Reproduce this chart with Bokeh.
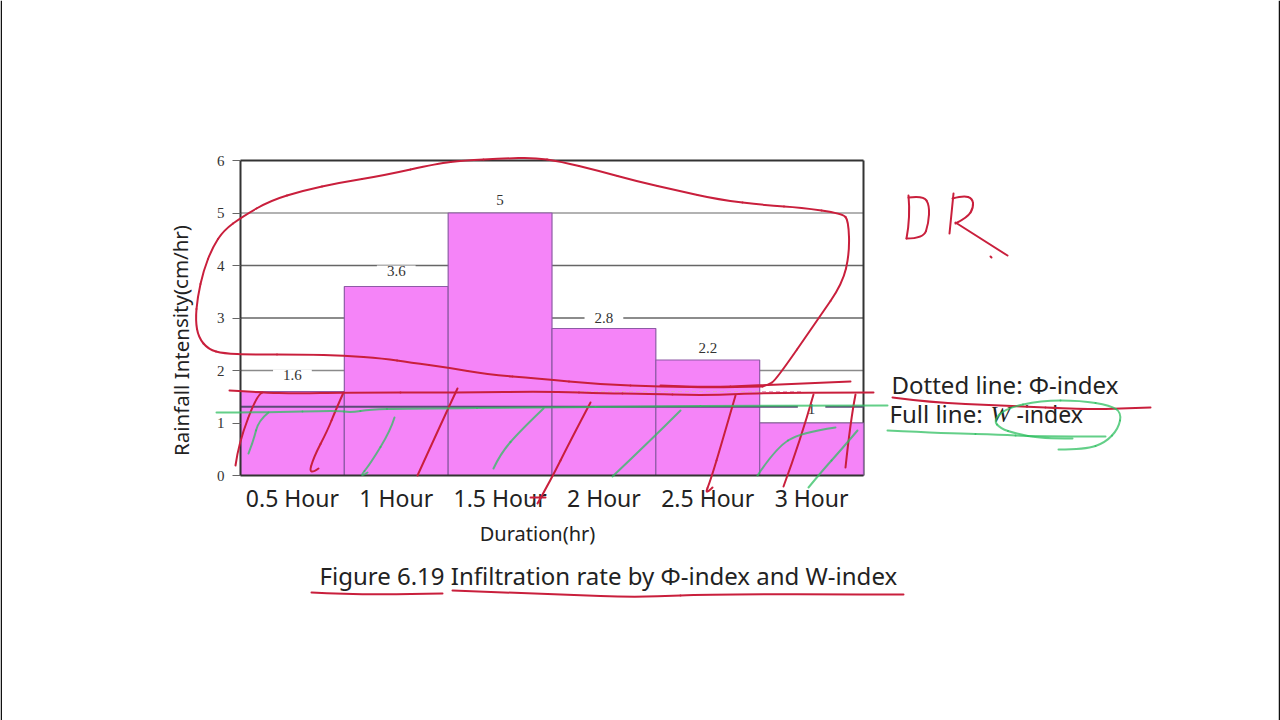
from bokeh.core.properties import value
from bokeh.embed import file_html
from bokeh.models import FixedTicker, Label, LinearAxis, Range1d
from bokeh.plotting import figure
from bokeh.resources import INLINE

# chart data
durations = ["0.5 Hour", "1 Hour", "1.5 Hour", "2 Hour", "2.5 Hour", "3 Hour"]
intensity = [1.6, 3.6, 5, 2.8, 2.2, 1]
value_labels = ["1.6", "3.6", "5", "2.8", "2.2", "1"]
label_offsets = [17, 16, 13, 11, 12, 14]
y_ticks = [0, 1, 2, 3, 4, 5, 6]
grid_levels = [1, 2, 3, 4, 5]
grid_colors = ["#8a8a8a", "#8a8a8a", "#666666", "#666666", "#999999"]
phi_index = 1.6
w_index = 1.31

# where the chart sits on the page, in page pixels
left, right, top, bottom = 240, 863, 160, 475
page_w, page_h = 1280, 720

# pen strokes drawn over the slide, in page pixels
red_strokes = [
    [(762, 386), (720, 387), (660, 386), (600, 384), (537, 378), (487, 374), (447, 367), (410, 362), (383, 358),
     (343, 355), (303, 354), (250, 354), (223, 353), (208, 349), (198, 337), (195, 320), (197, 297), (203, 270),
     (212, 247), (223, 230), (242, 216), (270, 200), (303, 190), (340, 182), (383, 175), (437, 163), (463, 160),
     (503, 158), (533, 157), (560, 161), (597, 170), (637, 181), (677, 190), (717, 199), (767, 205), (800, 207),
     (842, 213), (848, 220), (849, 253), (842, 283), (818, 318), (775, 380), (768, 384), (762, 386)],
    [(229, 390), (260, 392), (297, 393), (343, 392), (457, 392), (550, 391), (607, 393), (637, 393), (707, 395),
     (770, 392), (873, 392)],
    [(660, 385), (700, 387), (760, 385), (850, 381)],
    [(892, 397), (930, 402), (1000, 405), (1090, 409), (1120, 408), (1150, 407)],
    [(235, 465), (238, 443), (257, 393), (262, 392)],
    [(343, 392), (335, 410), (327, 430), (313, 457), (308, 475), (318, 468)],
    [(457, 388), (448, 407), (417, 475)],
    [(590, 402), (570, 440), (550, 480), (537, 503)],
    [(530, 497), (545, 497)],
    [(735, 395), (722, 440), (710, 480), (704, 495), (712, 487)],
    [(813, 394), (800, 440), (783, 486)],
    [(855, 394), (850, 420), (845, 467)],
    [(311, 592), (360, 595), (442, 593)],
    [(452, 590), (560, 594), (640, 597), (720, 593), (903, 594)],
    [(908, 195), (910, 217), (906, 238)],
    [(908, 197), (923, 195), (929, 205), (928, 223), (923, 238), (906, 238)],
    [(953, 193), (949, 233)],
    [(952, 198), (963, 195), (972, 198), (973, 207), (967, 217), (955, 223)],
    [(955, 222), (1007, 255)],
    [(990, 256), (991, 257)],
]
green_strokes = [
    [(216, 412), (267, 412), (337, 410), (350, 412), (370, 409), (403, 408), (550, 407), (640, 406), (760, 405),
     (887, 405)],
    [(268, 412), (258, 420), (253, 440), (248, 453)],
    [(394, 417), (390, 430), (370, 463), (358, 478), (367, 472)],
    [(543, 408), (520, 430), (500, 453), (493, 468)],
    [(680, 410), (650, 440), (612, 476)],
    [(835, 427), (800, 432), (775, 448), (757, 475)],
    [(857, 430), (840, 450), (822, 470), (808, 487)],
    [(887, 430), (950, 433), (1000, 434), (1030, 436), (1105, 436)],
    [(1058, 449), (1085, 449), (1105, 442), (1118, 428), (1121, 412), (1110, 405), (1080, 400), (1040, 400),
     (1005, 408), (993, 420), (1000, 428), (1015, 433), (1040, 438), (1072, 438)],
]

# frame covers the whole page so the pen marks can leave the chart
unit_x = (right - left) / 6
unit_y = (bottom - top) / 6
p = figure(width=page_w, height=page_h, output_backend="svg", toolbar_location=None, min_border=0,
           x_axis_type=None, y_axis_type=None,
           x_range=Range1d(-left / unit_x, (page_w - left) / unit_x),
           y_range=Range1d((bottom - page_h) / unit_y, bottom / unit_y))
p.outline_line_color = None
p.grid.visible = False
p.extra_x_ranges["px"] = Range1d(0, page_w)
p.extra_y_ranges["px"] = Range1d(page_h, 0)

# dark edges of the slide
p.segment(x0=[0.75, page_w - 1], x1=[0.75, page_w - 1], y0=0, y1=page_h, line_color="#111111",
          line_width=1.5, x_range_name="px", y_range_name="px")

n = len(durations)
p.segment(x0=0, x1=6, y0=grid_levels, y1=grid_levels, line_color=grid_colors, line_width=1.6)
p.segment(x0=[0, 6], x1=[6, 6], y0=[6, 0], y1=[6, 6], line_color="#333333", line_width=2)
p.vbar(x=[i + 0.5 for i in range(n)], width=1, bottom=0, top=intensity,
       fill_color="#F584F8", line_color="#8E5BA6", line_width=1.2)
p.line([0, 6], [w_index, w_index], line_color="#5C4A78", line_width=2)
p.line([3, 5.4], [phi_index, phi_index], line_color="#E8A0C0", line_width=1.2, line_dash="4 3")

yaxis = LinearAxis(fixed_location=0, bounds=(0, 6), ticker=FixedTicker(ticks=y_ticks))
yaxis.axis_line_color = "#333333"
yaxis.axis_line_width = 2
yaxis.major_tick_line_color = "#666666"
yaxis.major_tick_out = 8
yaxis.major_tick_in = 0
yaxis.minor_tick_line_color = None
yaxis.major_label_text_font = "Liberation Serif"
yaxis.major_label_text_font_size = "15px"
yaxis.major_label_text_color = "#333333"
yaxis.major_label_standoff = 8
p.add_layout(yaxis, "left")

xaxis = LinearAxis(fixed_location=0, bounds=(0, 6), ticker=FixedTicker(ticks=[i + 0.5 for i in range(n)]))
xaxis.major_label_overrides = {i + 0.5: d for i, d in enumerate(durations)}
xaxis.axis_line_color = "#333333"
xaxis.axis_line_width = 2
xaxis.major_tick_line_color = None
xaxis.minor_tick_line_color = None
xaxis.major_label_text_font = "Noto Sans"
xaxis.major_label_text_font_size = "23px"
xaxis.major_label_text_color = "#222222"
xaxis.major_label_standoff = 0
p.add_layout(xaxis, "below")

# value labels sit on white so they cut the grid lines
for i, (v, t) in enumerate(zip(intensity, value_labels)):
    p.add_layout(Label(x=i + 0.5, y=v, text=t, y_offset=label_offsets[i], text_align="center", text_baseline="middle",
                       text_font="Liberation Serif", text_font_size="15px", text_color="#333333",
                       background_fill_color="white", padding=(10, 0)))


def page_text(x, y, text, size, **kw):
    kw.setdefault("text_font", value("Noto Sans"))
    p.text([x], [y], text=[text], text_font_size=size, text_color="#222222", text_baseline="middle",
           x_range_name="px", y_range_name="px", level="annotation", **kw)


page_text(180, 340, "Rainfall Intensity(cm/hr)", "20.5px", angle=1.5708, text_align="center")
page_text(537, 533, "Duration(hr)", "20px", text_align="center")
page_text(319, 575, "Figure 6.19 Infiltration rate by Φ-index and W-index", "24px", text_align="left")
page_text(891, 384, "Dotted line: Φ-index", "24px", text_align="left")
page_text(889, 413, "Full line:", "24px", text_align="left")
page_text(990, 413, "W", "24px", text_align="left", text_font=value("Liberation Serif"), text_font_style="italic")
page_text(1016, 413, "-index", "23px", text_align="left")


def draw_stroke(stroke, **kw):
    xs = [c[0] for c in stroke]
    ys = [c[1] for c in stroke]
    if len(stroke) < 3:
        p.line(xs, ys, x_range_name="px", y_range_name="px", level="overlay", line_cap="round", **kw)
        return
    # rounded pen line: one curve per inner point, joined half way between points
    mx = [(a + b) / 2 for a, b in zip(xs[1:-2], xs[2:-1])]
    my = [(a + b) / 2 for a, b in zip(ys[1:-2], ys[2:-1])]
    p.quadratic(x0=xs[:1] + mx, y0=ys[:1] + my, x1=mx + xs[-1:], y1=my + ys[-1:], cx=xs[1:-1], cy=ys[1:-1],
                x_range_name="px", y_range_name="px", level="overlay", line_cap="round", **kw)


for stroke in red_strokes:
    draw_stroke(stroke, line_color="#C91F3C", line_width=2)
for stroke in green_strokes:
    draw_stroke(stroke, line_color="#2FBF60", line_width=2, line_alpha=0.75)

open("out.html", "w").write(file_html(p, INLINE))
